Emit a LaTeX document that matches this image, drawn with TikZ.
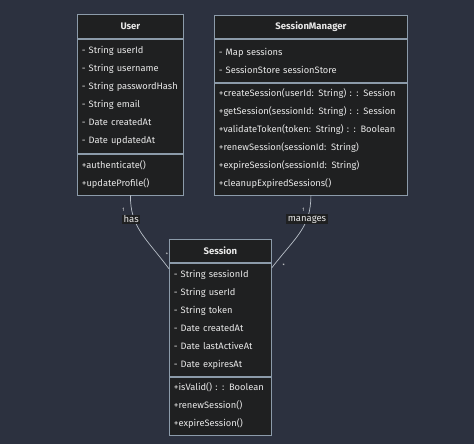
\documentclass[tikz,border=0pt]{standalone}
\usepackage{fontspec}
\setsansfont{Fira Sans}
\renewcommand{\familydefault}{\sfdefault}
\usetikzlibrary{positioning}

\definecolor{canvas}{RGB}{44,49,63}
\definecolor{boxbg}{RGB}{31,32,33}
\definecolor{edge}{RGB}{140,155,170}
\definecolor{ink}{RGB}{232,232,232}
\definecolor{wire}{RGB}{185,192,200}

\begin{document}
\begin{tikzpicture}[
    x=1pt, y=-1pt,
    classhead/.style={rectangle, draw=edge, fill=boxbg, text=ink, line width=0.8pt, minimum height=23pt, inner sep=0pt, anchor=north west, font=\fontsize{9.5}{11}\selectfont\bfseries},
    classbody/.style={rectangle, draw=edge, fill=boxbg, text=ink, line width=0.8pt, inner xsep=4.5pt, inner ysep=0pt, align=left, font={\fontsize{9.3}{18}\selectfont\hyphenpenalty=10000\relax}},
    assoc/.style={draw=wire, line width=0.7pt},
    lbl/.style={fill=boxbg, text=ink, inner xsep=1.5pt, inner ysep=1pt, font=\fontsize{9.5}{11}\selectfont},
    mult/.style={text=ink, inner sep=0pt, font=\fontsize{5}{6}\selectfont}
]
\fill[canvas] (0,0) rectangle (474,444);
\useasboundingbox (0,0) rectangle (474,444);

% --- User ---
\node[classhead, minimum width=106pt, minimum height=24pt] (userhead) at (77,14) {User};
\node[classbody, below=0pt of userhead, minimum width=106pt, text width=97pt, minimum height=114pt] (userattr)
    {- String userId\\- String username\\- String passwordHash\\- String email\\- Date createdAt\\- Date updatedAt};
\node[classbody, below=0pt of userattr, minimum width=106pt, text width=97pt, minimum height=41pt] (userops)
    {+authenticate()\\+updateProfile()};

% --- SessionManager ---
\node[classhead, minimum width=193pt] (mgrhead) at (214,15) {SessionManager};
\node[classbody, below=0pt of mgrhead, minimum width=193pt, text width=184pt, minimum height=43pt] (mgrattr)
    {- Map sessions\\- SessionStore sessionStore};
\node[classbody, below=0pt of mgrattr, minimum width=193pt, text width=184pt, minimum height=112pt] (mgrops)
    {+createSession(userId: String) : : Session\\+getSession(sessionId: String) : : Session\\+validateToken(token: String) : : Boolean\\+renewSession(sessionId: String)\\+expireSession(sessionId: String)\\+cleanupExpiredSessions()};

% --- Session ---
\node[classhead, minimum width=102pt] (sesshead) at (169,239) {Session};
\node[classbody, below=0pt of sesshead, minimum width=102pt, text width=93pt, minimum height=113pt] (sessattr)
    {- String sessionId\\- String userId\\- String token\\- Date createdAt\\- Date lastActiveAt\\- Date expiresAt};
\node[classbody, below=0pt of sessattr, minimum width=102pt, text width=93pt, minimum height=58pt] (sessops)
    {+isValid() : : Boolean\\+renewSession()\\+expireSession()};

% === associations ===
\draw[assoc] (userops.south) .. controls +(0,32) and +(-24,-32) ..
    node[lbl, pos=0.3, xshift=-3pt] (haslbl) {has} ([yshift=-6pt]sessattr.north west);
\draw[assoc] (mgrops.south) .. controls +(0,32) and +(24,-31) ..
    node[lbl, pos=0.3] (mgrlbl) {manages} ([yshift=-5pt]sessattr.north east);

% multiplicities
\node[mult] (usermult) at ([xshift=-7pt, yshift=-14pt]userops.south) {1};
\node[mult] (mgrmult) at ([xshift=-7.5pt, yshift=-14pt]mgrops.south) {1};
\node[mult] (hasmult) at ([xshift=-2pt, yshift=8pt]sessattr.north west) {*};
\node[mult] (managesmult) at ([xshift=12pt, yshift=-3pt]sessattr.north east) {*};

\end{tikzpicture}
\end{document}
